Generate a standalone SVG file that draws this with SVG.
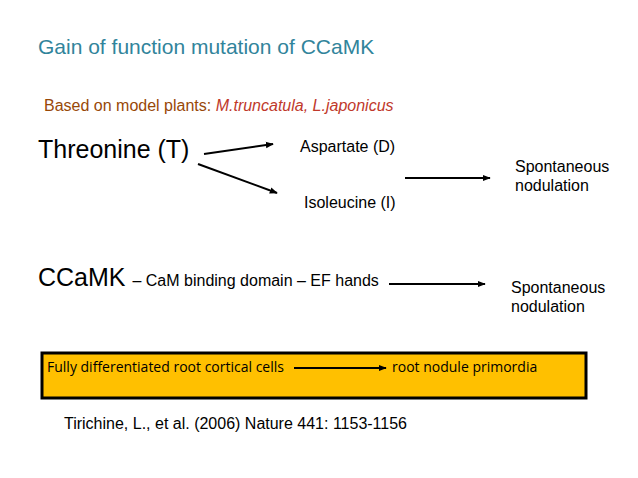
<svg xmlns="http://www.w3.org/2000/svg" width="638" height="478" viewBox="0 0 638 478">
<style>
text{font-family:"Liberation Sans",Arial,sans-serif;fill:#000}
.s{font-size:16px}
.b{font-size:25px}
.c{font-family:"Open Sans","Noto Sans",sans-serif;font-size:14px}
.ln{stroke:#000;stroke-width:2;fill:none}
</style>
<defs><marker id="a" viewBox="0 0 10 10" refX="9" refY="5" markerWidth="4" markerHeight="4" orient="auto"><path d="M0,1L10,5L0,9z" fill="#000"/></marker></defs>
<rect width="638" height="478" fill="#fff"/>
<g id="title"><text x="38" y="54" font-size="21" style="fill:#31849b">Gain of function mutation of CCaMK</text></g>
<g id="basis"><text x="44" y="111" class="s" style="fill:#984807">Based on model plants:  <tspan font-style="italic" style="fill:#c0392b">M.truncatula, L.japonicus</tspan></text></g>
<g id="threonine"><text x="38" y="158" class="b">Threonine (T)</text></g>
<g id="aspartate"><text x="300" y="152" class="s">Aspartate (D)</text></g>
<g id="isoleucine"><text x="304" y="208" class="s">Isoleucine (I)</text></g>
<g id="spont1"><text x="515" y="172" class="s">Spontaneous</text><text x="515" y="191" class="s">nodulation</text></g>
<g id="ccamk"><text x="38" y="286" class="b">CCaMK <tspan class="s">– CaM binding domain – EF hands</tspan></text></g>
<g id="spont2"><text x="511" y="293" class="s">Spontaneous</text><text x="511" y="312" class="s">nodulation</text></g>
<g id="box"><rect x="42" y="353" width="544" height="45" fill="#ffc000" stroke="#000" stroke-width="3"/>
<text x="47" y="372" class="c">Fully differentiated root cortical cells</text>
<text x="392" y="372" class="c">root nodule primordia</text></g>
<g id="ref"><text x="64" y="429" class="s">Tirichine, L., et al. (2006) Nature 441: 1153-1156</text></g>
<g id="connectors">
<line class="ln" x1="204" y1="154" x2="273" y2="144" marker-end="url(#a)"/>
<line class="ln" x1="198" y1="164" x2="277" y2="193" marker-end="url(#a)"/>
<line class="ln" x1="405" y1="178" x2="490" y2="178" marker-end="url(#a)"/>
<line class="ln" x1="389" y1="284" x2="485" y2="284" marker-end="url(#a)"/>
<line class="ln" x1="294" y1="368" x2="386" y2="368" stroke-width="1.5" marker-end="url(#a)"/>
</g>
</svg>
